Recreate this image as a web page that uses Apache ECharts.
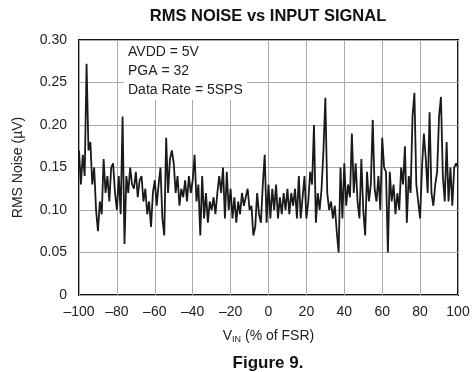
<!DOCTYPE html>
<html>
<head>
<meta charset="utf-8">
<script src="https://cdn.jsdelivr.net/npm/echarts@6/dist/echarts.min.js"></script>
<style>html,body{margin:0;padding:0;background:#fff}#c{width:474px;height:372px}</style>
</head>
<body>
<div id="c"></div>
<script>
// Input signal (% of FSR), one reading per 1 %
var vin = [];
for (var i = -100; i <= 100; i++) vin.push(i);

// RMS noise (µV)
var rmsNoise = [
  0.17, 0.13, 0.165, 0.14, 0.272, 0.17, 0.18, 0.13, 0.15, 0.10,
  0.075, 0.11, 0.095, 0.16, 0.12, 0.14, 0.11, 0.15, 0.155, 0.12,
  0.10, 0.14, 0.095, 0.21, 0.06, 0.14, 0.12, 0.15, 0.13, 0.125,
  0.145, 0.115, 0.135, 0.14, 0.11, 0.125, 0.095, 0.11, 0.08, 0.12,
  0.135, 0.105, 0.13, 0.15, 0.09, 0.07, 0.185, 0.12, 0.16, 0.17,
  0.155, 0.12, 0.14, 0.105, 0.125, 0.115, 0.135, 0.11, 0.14, 0.12,
  0.135, 0.165, 0.11, 0.13, 0.07, 0.14, 0.09, 0.12, 0.085, 0.11,
  0.10, 0.115, 0.095, 0.12, 0.14, 0.12, 0.15, 0.09, 0.145, 0.10,
  0.125, 0.09, 0.115, 0.085, 0.11, 0.095, 0.12, 0.105, 0.115, 0.125,
  0.10, 0.105, 0.07, 0.08, 0.12, 0.095, 0.085, 0.13, 0.165, 0.085,
  0.13, 0.09, 0.125, 0.10, 0.13, 0.09, 0.115, 0.095, 0.12, 0.10,
  0.125, 0.095, 0.12, 0.105, 0.125, 0.09, 0.14, 0.09, 0.115, 0.14,
  0.09, 0.11, 0.145, 0.13, 0.20, 0.085, 0.12, 0.10, 0.125, 0.17,
  0.232, 0.12, 0.10, 0.11, 0.09, 0.105, 0.075, 0.05, 0.15, 0.09,
  0.155, 0.105, 0.13, 0.115, 0.19, 0.12, 0.155, 0.11, 0.09, 0.16,
  0.10, 0.07, 0.145, 0.11, 0.13, 0.206, 0.125, 0.11, 0.14, 0.10,
  0.185, 0.15, 0.145, 0.05, 0.145, 0.11, 0.13, 0.095, 0.12, 0.10,
  0.15, 0.13, 0.175, 0.085, 0.14, 0.12, 0.21, 0.238, 0.13, 0.11,
  0.09, 0.15, 0.19, 0.16, 0.12, 0.215, 0.12, 0.105, 0.13, 0.145,
  0.21, 0.233, 0.14, 0.11, 0.18, 0.11, 0.15, 0.105, 0.15, 0.155,
  0.15
];

var xTicks = [-100, -80, -60, -40, -20, 0, 20, 40, 60, 80, 100];
var yTicks = [0, 0.05, 0.10, 0.15, 0.20, 0.25, 0.30];
var notes = ['AVDD = 5V', 'PGA = 32', 'Data Rate = 5SPS'];

var pts = vin.map(function (v, i) { return [v, rmsNoise[i]]; });
var FONT = '"Liberation Sans", Arial, sans-serif';

var chart = echarts.init(document.getElementById('c'), null, {renderer: 'canvas'});
chart.setOption({
  animation: false,
  backgroundColor: '#fff',
  title: [
    {text: 'RMS NOISE vs INPUT SIGNAL', left: 263, top: 3, textAlign: 'center',
     textStyle: {fontFamily: FONT, fontSize: 16.5, fontWeight: 'bold', color: '#111'}},
    {text: 'Figure 9.', left: 263, top: 350, textAlign: 'center',
     textStyle: {fontFamily: FONT, fontSize: 17, fontWeight: 'bold', color: '#111'}}
  ],
  grid: {left: 79, right: 16, top: 40, bottom: 77, show: true,
         borderColor: '#111', borderWidth: 2, backgroundColor: 'transparent'},
  xAxis: {
    type: 'value', min: xTicks[0], max: xTicks[xTicks.length - 1], interval: 20,
    axisLine: {show: false}, axisTick: {show: false},
    splitLine: {show: true, lineStyle: {color: '#aaa', width: 1}},
    axisLabel: {fontFamily: FONT, fontSize: 14, color: '#222', margin: 10,
      formatter: function (v) { return v < 0 ? '\u2013' + Math.abs(v) : String(v); }},
    name: '{a|V}{s|IN}{a| (% of FSR)}', nameLocation: 'middle', nameGap: 34,
    nameTextStyle: {rich: {
      a: {fontFamily: FONT, fontSize: 14, color: '#222'},
      s: {fontFamily: FONT, fontSize: 9, color: '#222', verticalAlign: 'bottom', padding: [6, 0, 0, 0]}
    }}
  },
  yAxis: {
    type: 'value', min: yTicks[0], max: yTicks[yTicks.length - 1], interval: 0.05,
    axisLine: {show: false}, axisTick: {show: false},
    splitLine: {show: true, lineStyle: {color: '#aaa', width: 1}},
    axisLabel: {fontFamily: FONT, fontSize: 14, color: '#222', margin: 12,
      formatter: function (v) { return v === 0 ? '0' : v.toFixed(2); }},
    name: 'RMS Noise (\u00B5V)', nameLocation: 'middle', nameGap: 54,
    nameTextStyle: {fontFamily: FONT, fontSize: 14, color: '#222'}
  },
  graphic: [
    {type: 'rect', shape: {x: 124, y: 41, width: 123, height: 59}, style: {fill: '#fff'}, z: 5},
    {type: 'text', left: 128, top: 45, z: 6,
     style: {text: notes[0], font: '14px ' + FONT, fill: '#222'}},
    {type: 'text', left: 128, top: 64, z: 6,
     style: {text: notes[1], font: '14px ' + FONT, fill: '#222'}},
    {type: 'text', left: 128, top: 83, z: 6,
     style: {text: notes[2], font: '14px ' + FONT, fill: '#222'}}
  ],
  series: [{
    type: 'line', data: pts, showSymbol: false, symbol: 'none',
    lineStyle: {color: '#1a1a1a', width: 1.8}, z: 3
  }]
});
</script>
</body>
</html>
